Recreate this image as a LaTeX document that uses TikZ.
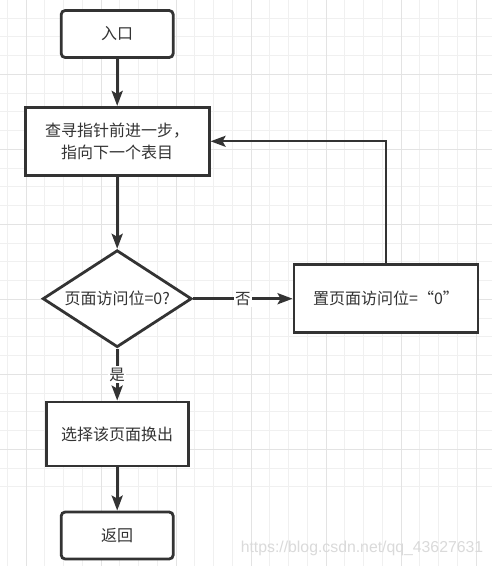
\documentclass[tikz,border=0pt]{standalone}
\usepackage{fontspec}
\setmainfont{Noto Sans CJK SC}
\newfontfamily\wmfont{Liberation Sans}
\usepackage{tikz}
\usetikzlibrary{arrows.meta,positioning,shapes.geometric}
\definecolor{ink}{HTML}{333333}
\definecolor{gridminor}{HTML}{F0F0F0}
\definecolor{gridmajor}{HTML}{E3E3E3}
\definecolor{wmark}{HTML}{DADADA}
\tikzset{
  base/.style  ={draw=ink, line width=2.8pt, fill=white, text=ink, align=center,
                 font=\fontsize{16}{22}\selectfont, inner sep=0pt},
  term/.style  ={base, rounded corners=4pt, minimum width=112pt, minimum height=47pt},
  proc/.style  ={base, minimum width=184pt, minimum height=68pt},
  dec/.style   ={base, diamond, minimum width=149pt, minimum height=97pt},
  fl/.style    ={draw=ink, line width=2.8pt, -{Stealth[length=15pt,width=11pt,inset=3pt]}},
  back/.style  ={fl, line width=2.1pt},
  lbl/.style   ={fill=white, text=ink, font=\fontsize{15.5}{18}\selectfont, inner sep=1.5pt},
}
\begin{document}
\begin{tikzpicture}[x=1pt,y=-1pt]
  \useasboundingbox (0,0) rectangle (492,566);
  \fill[white] (0,0) rectangle (492,566);
  % background grid
  \foreach \k in {-1,...,26}{
    \draw[gridminor, line width=1pt] (26+18.75*\k,0) -- (26+18.75*\k,566);
    \draw[gridminor, line width=1pt] (0,-0.7+18.75*\k) -- (492,-0.7+18.75*\k);
  }
  \foreach \k in {0,...,6}{
    \draw[gridmajor, line width=1pt] (26+75*\k,0) -- (26+75*\k,566);
    \draw[gridmajor, line width=1pt] (0,-0.7+75*\k) -- (492,-0.7+75*\k);
  }

  \node[term] (start) at (117.2,34) {入口};
  \node[proc] (step) at (117.2,141.3) {查寻指针前进一步，\\指向下一个表目};
  \node[dec, label=center:{\fontsize{16}{18}\selectfont\color{ink}页面访问位=0?}] (chk) at (117.2,298.7) {};
  \node[proc] (reset) at (386,298.7) {置页面访问位=“0”};
  \node[proc, minimum width=142pt, minimum height=64pt] (swap) at (117.2,434) {选择该页面换出};
  \node[term] (ret) at (117.2,535.5) {返回};

  \draw[fl] (start.south) -- (step.north);
  \draw[fl] (step.south) -- (chk.north);
  \draw[fl] (chk.east) -- node[lbl] {否} (reset.west);
  \draw[back] (reset.north) |- (step.east);
  \draw[fl] (chk.south) -- node[lbl, pos=0.5] {是} (swap.north);
  \draw[fl] (swap.south) -- (ret.north);

  \node[font=\wmfont\fontsize{15.8}{18}\selectfont, text=wmark] (wm) at (362,548) {https://blog.csdn.net/qq\_43627631};
\end{tikzpicture}
\end{document}
